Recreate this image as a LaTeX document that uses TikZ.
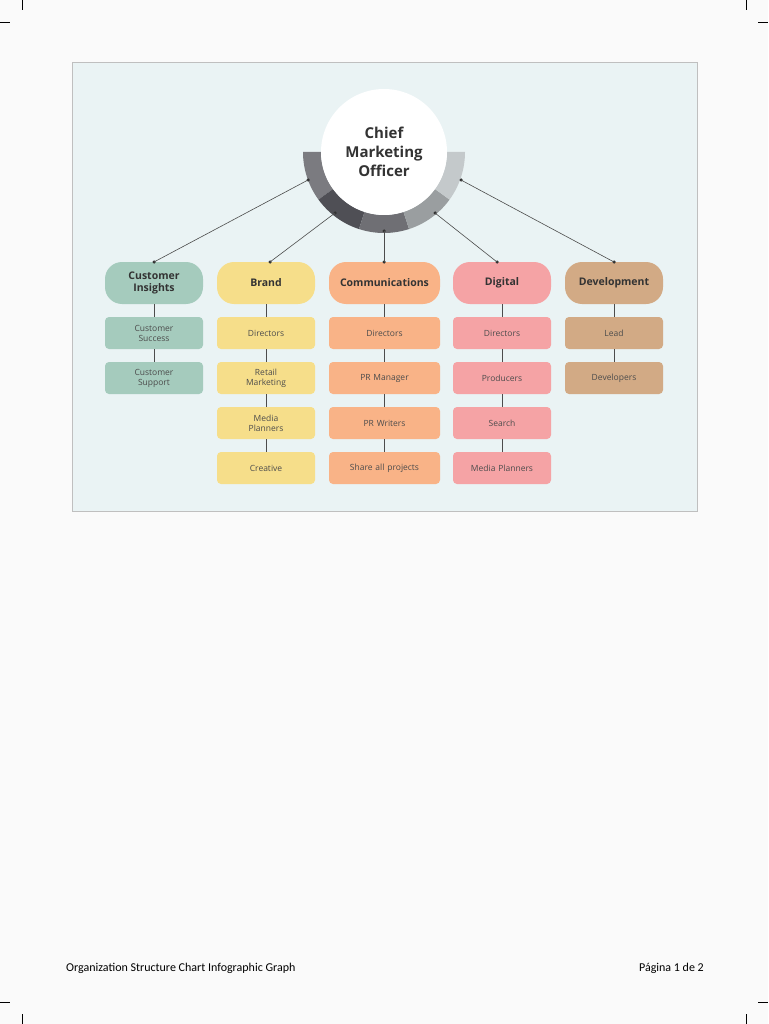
\documentclass[tikz,border=0pt]{standalone}
\usepackage{fontspec}
\setmainfont{Open Sans}
\newfontfamily\foot{Carlito}
\begin{document}
\begin{tikzpicture}[x=1pt,y=-1pt,
 hd/.style={rounded corners=17pt,minimum height=42pt,text width=90pt,align=center,font=\fontsize{10.5}{12}\selectfont\bfseries,text=black!80,inner sep=0pt},
 sb/.style={rounded corners=4pt,minimum height=32pt,text width=98pt,align=center,font=\fontsize{8.5}{10}\selectfont,text=black!70,inner sep=0pt},
 ln/.style={draw=black!70,line width=0.6pt},
 dot/.style={circle,fill=black!80,inner sep=0pt,minimum size=3.5pt}]
\definecolor{pg}{HTML}{FAFAFA}\definecolor{pan}{HTML}{EAF3F4}
\definecolor{cg}{HTML}{A5CBBD}\definecolor{cy}{HTML}{F6DE8A}\definecolor{co}{HTML}{F9B387}
\definecolor{cp}{HTML}{F5A3A5}\definecolor{ct}{HTML}{D2AA85}
\fill[pg] (0,0) rectangle (768,1024);
\useasboundingbox (0,0) rectangle (768,1024);
\draw[black,line width=0.6pt] (0,22)--(10,22) (22,0)--(22,10) (758,22)--(768,22) (746,0)--(746,10)
 (0,1002)--(10,1002) (22,1014)--(22,1024) (758,1002)--(768,1002) (746,1014)--(746,1024);
\draw[fill=pan,draw=black!25,line width=1pt] (72,63) rectangle (697,511);
% ring
\foreach \s/\c in {0/7B7B80,1/4F4F55,2/6F6F74,3/9A9EA0,4/C4C9CB}{
 \definecolor{rc}{HTML}{\c}
 \pgfmathsetmacro{\sa}{180-36*\s}\pgfmathsetmacro{\ea}{144-36*\s}
 \fill[rc] ({384+81*cos(\sa)},{152+81*sin(\sa)}) arc[start angle=\sa,end angle=\ea,radius=81]
  -- ({384+63*cos(\ea)},{152+63*sin(\ea)}) arc[start angle=\ea,end angle=\sa,radius=63] -- cycle;}
\node[circle,fill=white,minimum size=126pt,inner sep=0pt,align=center,font=\fontsize{15}{19}\selectfont\bfseries,text=black!80] (ceo) at (384,152) {Chief\\Marketing\\Officer};
\node[dot] (d1) at (308,180) {};\node[dot] (d2) at (335,213) {};\node[dot] (d3) at (384,231) {};
\node[dot] (d4) at (435,213) {};\node[dot] (d5) at (461,180) {};
% columns
\node[hd,fill=cg,text width=98pt] (h1) at (154,283) {Customer\\Insights};
\node[hd,fill=cy,text width=98pt] (h2) at (266,283) {Brand};
\node[hd,fill=co,text width=111pt] (h3) at (384.5,283) {Communications};
\node[hd,fill=cp,text width=98pt] (h4) at (502,283) {Digital};
\node[hd,fill=ct,text width=98pt] (h5) at (614,283) {Development};
\foreach \i/\x in {1/154,2/270,3/384,4/497,5/614}{
 \node[dot] (t\i) at (\x,262) {};
 \draw[ln] (d\i.center)--(t\i.center);}
\node[sb,fill=cg] (a1) at (154,333) {Customer\\Success};
\node[sb,fill=cg] (a2) at (154,378) {Customer\\Support};
\node[sb,fill=cy] (b1) at (266,333) {Directors};
\node[sb,fill=cy] (b2) at (266,378) {Retail\\Marketing};
\node[sb,fill=cy] (b3) at (266,423) {Media\\Planners};
\node[sb,fill=cy] (b4) at (266,468) {Creative};
\node[sb,fill=co,text width=111pt] (c1) at (384.5,333) {Directors};
\node[sb,fill=co,text width=111pt] (c2) at (384.5,378) {PR Manager};
\node[sb,fill=co,text width=111pt] (c3) at (384.5,423) {PR Writers};
\node[sb,fill=co,text width=111pt] (c4) at (384.5,468) {Share all projects};
\node[sb,fill=cp] (e1) at (502,333) {Directors};
\node[sb,fill=cp] (e2) at (502,378) {Producers};
\node[sb,fill=cp] (e3) at (502,423) {Search};
\node[sb,fill=cp] (e4) at (502,468) {Media Planners};
\node[sb,fill=ct] (f1) at (614,333) {Lead};
\node[sb,fill=ct] (f2) at (614,378) {Developers};
\draw[ln] (h1)--(a1) (a1)--(a2) (h2)--(b1) (b1)--(b2) (b2)--(b3) (b3)--(b4)
 (h3)--(c1) (c1)--(c2) (c2)--(c3) (c3)--(c4) (h4)--(e1) (e1)--(e2) (e2)--(e3) (e3)--(e4)
 (h5)--(f1) (f1)--(f2);
\node[anchor=west,font=\foot\fontsize{12}{14}\selectfont,inner sep=0pt] (ft1) at (66,968) {Organization Structure Chart Infographic Graph};
\node[anchor=east,font=\foot\fontsize{12}{14}\selectfont,inner sep=0pt] (ft2) at (704,968) {Página 1 de 2};
\end{tikzpicture}
\end{document}
